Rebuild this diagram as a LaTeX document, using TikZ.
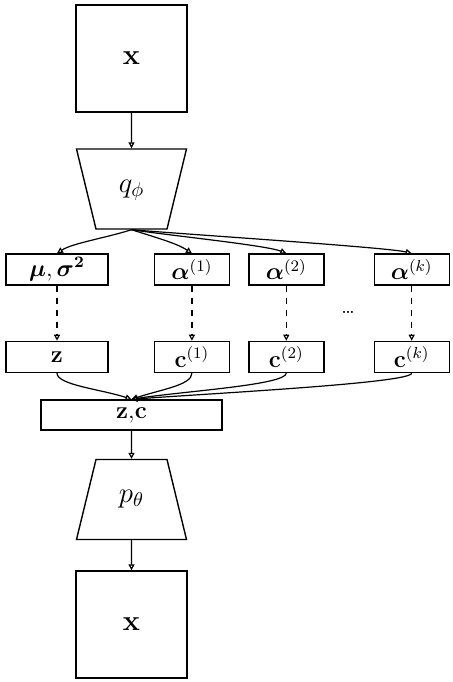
\documentclass[tikz,border=0pt]{standalone}
\usepackage{amsmath}
\usepackage{bm}
\usetikzlibrary{positioning}
\usetikzlibrary{shapes.geometric}
\usetikzlibrary{arrows.meta}
\tikzstyle{img}=[rectangle,draw,line width=0.7pt,minimum width=55.5pt,minimum height=53.5pt,inner sep=0pt,font=\Large]
\tikzstyle{net}=[trapezium,draw,line width=0.7pt,trapezium left angle=76.3,trapezium right angle=76.3,inner sep=0pt,text width=35.5pt,text height=21.5pt,text depth=18.5pt,align=center,font=\Large]
\tikzstyle{var}=[rectangle,draw,line width=0.7pt,minimum width=37.5pt,minimum height=15.5pt,inner sep=0pt,font=\large]
\tikzstyle{flow}=[line width=0.6pt,-{Triangle[open,length=3pt,width=3pt]}]

\begin{document}
\begin{tikzpicture}[x=0.5pt,y=-0.5pt]
				
				\useasboundingbox (0,0) rectangle (453,682);
				
				\def\a{22.5pt}
				\def\b{9pt}
				\def\c{24.5pt}
				\def\d{27.5pt}
				
				\node [img] (xin) at (131.5,58.5) {$\mathbf{x}$};
				
				\node [net, shape border rotate=180] (enc) at (131.5,189) {$q_\phi$};
				
				\node [var, minimum width=51pt] (mu) at (57,269.5) {$\boldsymbol{\mu},\boldsymbol{\sigma^2}$};
				\node [var, right = \a of mu] (al1) {$\boldsymbol{\alpha}^{(1)}$};
				\node [var, right = \b of al1] (al2) {$\boldsymbol{\alpha}^{(2)}$};
				\node [var, right = \c of al2] (alk) {$\boldsymbol{\alpha}^{(k)}$};
				
				\node [var, minimum width=51pt, below = \d of mu] (z) {$\mathbf{z}$};
				\node [var, below = \d of al1] (c1) {$\mathbf{c}^{(1)}$};
				\node [var, below = \d of al2] (c2) {$\mathbf{c}^{(2)}$};
				\node [var, below = \d of alk] (ck) {$\mathbf{c}^{(k)}$};
				
				\node (dots) at (348,312) {\dots};
				
				\node [var, minimum width=90.5pt, minimum height=15pt] (zc) at (131.5,415) {$\mathbf{z}{,}\mathbf{c}$};
				
				\node [net] (dec) at (131.5,499.5) {$p_\theta$};
				
				\node [img] (xout) at (131.5,624.5) {$\mathbf{x}$};
				
				
				\draw[flow] (xin) -- (enc);
				
				\draw[flow] (enc.south) .. controls +(-25,8) and +(15,-10) .. (mu.north);
				\draw[flow] (enc.south) .. controls +(25,8) and +(-15,-10) .. (al1.north);
				\draw[flow] (enc.south) .. controls +(40,6) and +(-20,-8) .. (al2.north);
				\draw[flow] (enc.south) .. controls +(60,5) and +(-25,-6) .. (alk.north);
				
				\draw[flow,dashed] (mu) -- (z);
				\draw[flow,dashed] (al1) -- (c1);
				\draw[flow,dashed] (al2) -- (c2);
				\draw[flow,dashed] (alk) -- (ck);
				
				\draw[flow] (z.south) .. controls +(0,12) and +(-30,-10) .. (zc.north);
				\draw[flow] (c1.south) .. controls +(0,12) and +(30,-10) .. (zc.north);
				\draw[flow] (c2.south) .. controls +(0,12) and +(50,-8) .. (zc.north);
				\draw[flow] (ck.south) .. controls +(0,10) and +(80,-6) .. (zc.north);
				
				\draw[flow] (zc) -- (dec);
				\draw[flow] (dec) -- (xout);
				
\end{tikzpicture}
\end{document}
